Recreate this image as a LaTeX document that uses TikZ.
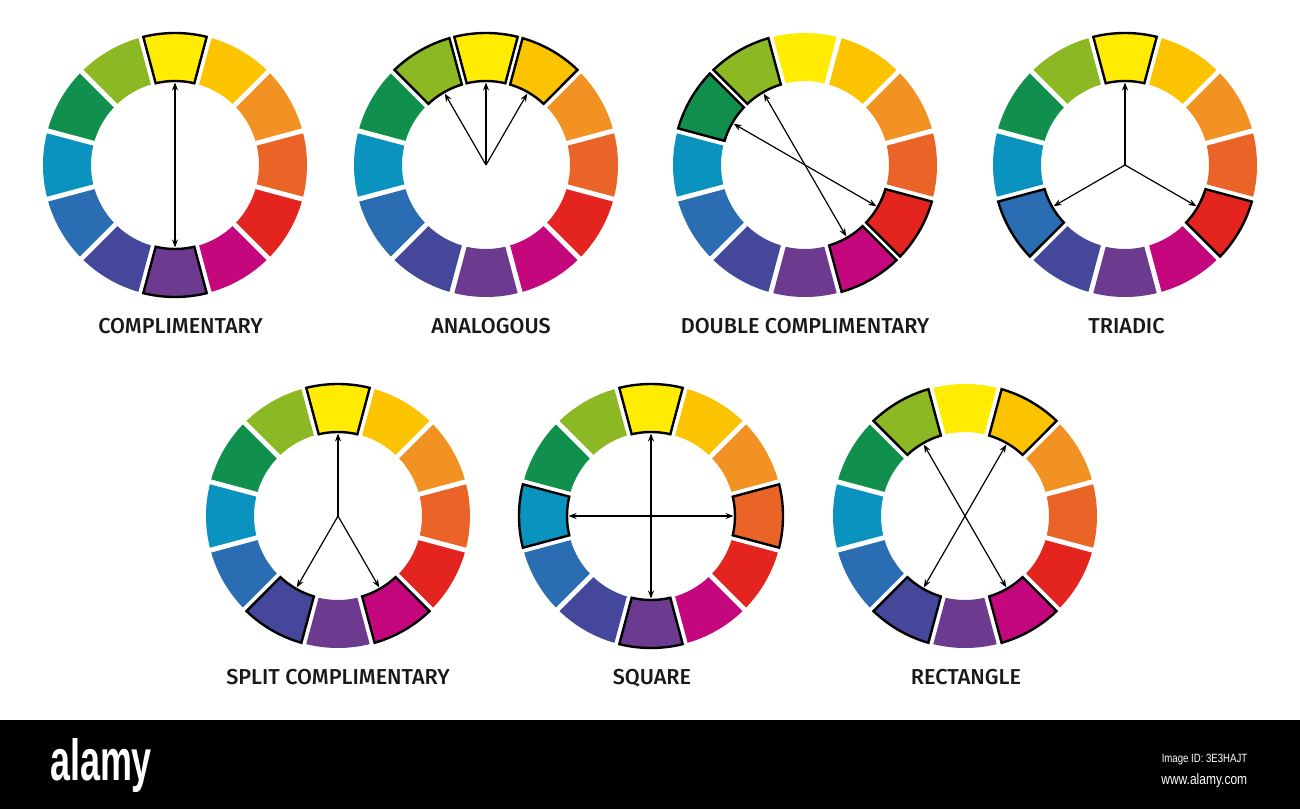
\documentclass[tikz,border=0pt]{standalone}
\usepackage{fontspec}
\setmainfont{Liberation Sans}
\newfontfamily\labfont{Fira Sans Medium}
\usetikzlibrary{arrows.meta}
\definecolor{c0}{HTML}{FFEC00}
\definecolor{c1}{HTML}{FCC300}
\definecolor{c2}{HTML}{F29222}
\definecolor{c3}{HTML}{E96426}
\definecolor{c4}{HTML}{E3241F}
\definecolor{c5}{HTML}{C5077E}
\definecolor{c6}{HTML}{6C3A8E}
\definecolor{c7}{HTML}{45479A}
\definecolor{c8}{HTML}{2B6DB3}
\definecolor{c9}{HTML}{0A93BE}
\definecolor{c10}{HTML}{11904D}
\definecolor{c11}{HTML}{8CB823}
\tikzset{
  segp/.style={insert path={(#1-13.3:84pt) -- (#1-13.9:132pt)
     arc[start angle=#1-13.9, end angle=#1+13.9, radius=132pt]
     -- (#1+13.3:84pt) arc[start angle=#1+13.3, end angle=#1-13.3, radius=84pt] -- cycle}},
  hlline/.style={draw=black, line width=2.4pt},
  arrone/.style={line width=1.2pt, -{Stealth[length=8pt,width=6pt]}},
  arrtwo/.style={line width=1.2pt, {Stealth[length=8pt,width=6pt]}-{Stealth[length=8pt,width=6pt]}},
  lab/.style={font=\labfont\fontsize{21.6}{24}\selectfont, anchor=base, text=black!90}
}
\newcommand\colwheel[3]{%
  \coordinate (#1) at (#2,#3);
  \begin{scope}[shift={(#1)}]
  \foreach \k in {0,...,11}{
    \pgfmathsetmacro\a{90-30*\k}
    \path[fill=c\k, segp=\a];
    \coordinate (#1-\k) at (\a:82.5pt);
  }
  \end{scope}}
\newcommand\hlseg[2]{%
  \pgfmathsetmacro\hla{90-30*#2}%
  \begin{scope}[shift={(#1)}]\path[hlline, segp=\hla];\end{scope}}
\begin{document}
\begin{tikzpicture}[x=1pt,y=1pt]
\useasboundingbox (0,0) rectangle (1300,809);
\fill[white] (0,0) rectangle (1300,809);
% wheels
\colwheel{w1}{175}{644}
\colwheel{w2}{486}{644}
\colwheel{w3}{805}{644}
\colwheel{w4}{1125}{644}
\colwheel{w5}{338}{293}
\colwheel{w6}{651}{293}
\colwheel{w7}{965}{293}
% complimentary
\hlseg{w1}{0}\hlseg{w1}{6}
\draw[arrtwo] (w1-0) -- (w1-6);
% analogous
\hlseg{w2}{11}\hlseg{w2}{0}\hlseg{w2}{1}
\draw[arrone] (w2) -- (w2-11);
\draw[arrone] (w2) -- (w2-0);
\draw[arrone] (w2) -- (w2-1);
% double complimentary
\hlseg{w3}{10}\hlseg{w3}{11}\hlseg{w3}{4}\hlseg{w3}{5}
\draw[arrtwo] (w3-10) -- (w3-4);
\draw[arrtwo] (w3-11) -- (w3-5);
% triadic
\hlseg{w4}{0}\hlseg{w4}{4}\hlseg{w4}{8}
\draw[arrone] (w4) -- (w4-0);
\draw[arrone] (w4) -- (w4-4);
\draw[arrone] (w4) -- (w4-8);
% split complimentary
\hlseg{w5}{0}\hlseg{w5}{5}\hlseg{w5}{7}
\draw[arrone] (w5) -- (w5-0);
\draw[arrone] (w5) -- (w5-5);
\draw[arrone] (w5) -- (w5-7);
% square
\hlseg{w6}{0}\hlseg{w6}{3}\hlseg{w6}{6}\hlseg{w6}{9}
\draw[arrtwo] (w6-0) -- (w6-6);
\draw[arrtwo] (w6-9) -- (w6-3);
% rectangle
\hlseg{w7}{11}\hlseg{w7}{1}\hlseg{w7}{5}\hlseg{w7}{7}
\draw[arrtwo] (w7-11) -- (w7-5);
\draw[arrtwo] (w7-1) -- (w7-7);
% labels
\node[lab] (l1) at (180.5,475) {COMPLIMENTARY};
\node[lab] (l2) at (491,475) {ANALOGOUS};
\node[lab] (l3) at (805,475) {DOUBLE COMPLIMENTARY};
\node[lab] (l4) at (1126.5,475) {TRIADIC};
\node[lab] (l5) at (338,125) {SPLIT COMPLIMENTARY};
\node[lab] (l6) at (652,125) {SQUARE};
\node[lab] (l7) at (966,125) {RECTANGLE};
% footer
\fill[black] (0,0) rectangle (1300,89);
\node[text=white, font=\bfseries\fontsize{58}{60}\selectfont, xscale=0.62, anchor=base] (logo) at (101,29) {alamy};
\node[text=white, font=\fontsize{12}{14}\selectfont, xscale=0.8, anchor=base east] (imgid) at (1250,47) {Image ID: 3E3HAJT};
\node[text=white, font=\fontsize{15}{17}\selectfont, xscale=0.8, anchor=base east] (url) at (1250,25) {www.alamy.com};
\end{tikzpicture}
\end{document}
